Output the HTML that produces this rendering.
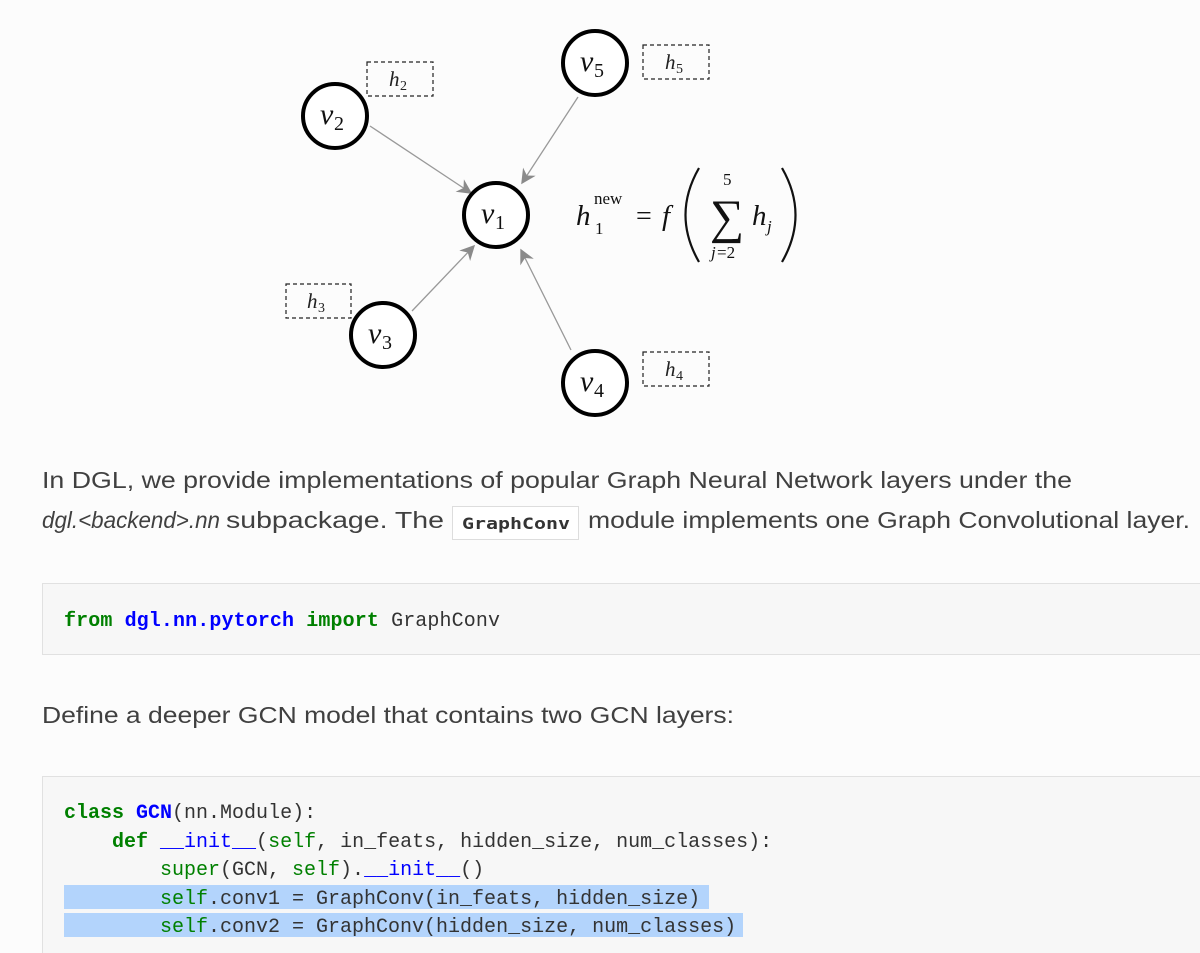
<!DOCTYPE html>
<html><head><meta charset="utf-8"><style>
html,body{margin:0;padding:0;background:#fcfcfc;}
svg{display:block}
</style></head><body>
<svg width="1200" height="953" xmlns="http://www.w3.org/2000/svg">
<defs>
<marker id="ar" viewBox="0 0 10 10" refX="9" refY="5" markerWidth="15" markerHeight="15" markerUnits="userSpaceOnUse" orient="auto">
<path d="M0,0 L10,5 L0,10 L3,5 z" fill="#8a8a8a"/></marker>
</defs>
<rect width="1200" height="953" fill="#fcfcfc"/>
<g stroke="#999" stroke-width="1.3" fill="none" marker-end="url(#ar)">
<line x1="370" y1="126" x2="471" y2="193"/>
<line x1="578" y1="97" x2="522" y2="183"/>
<line x1="412" y1="311" x2="474" y2="246"/>
<line x1="571" y1="350" x2="521" y2="250"/>
</g>
<g stroke="#000" stroke-width="4" fill="#fff">
<circle cx="335" cy="116" r="32"/>
<circle cx="595" cy="63" r="32"/>
<circle cx="496" cy="215" r="32"/>
<circle cx="383" cy="335" r="32"/>
<circle cx="595" cy="383" r="32"/>
</g>
<g font-family="Liberation Serif, serif" font-style="italic" font-size="30" fill="#111">
<text x="320" y="124">v</text><text x="334" y="130" font-size="20" font-style="normal">2</text>
<text x="580" y="71">v</text><text x="594" y="77" font-size="20" font-style="normal">5</text>
<text x="481" y="223">v</text><text x="495" y="229" font-size="20" font-style="normal">1</text>
<text x="368" y="343">v</text><text x="382" y="349" font-size="20" font-style="normal">3</text>
<text x="580" y="391">v</text><text x="594" y="397" font-size="20" font-style="normal">4</text>
</g>
<g stroke="#222" stroke-width="1.2" stroke-dasharray="4,3" fill="none">
<rect x="367" y="62" width="66" height="34"/>
<rect x="643" y="45" width="66" height="34"/>
<rect x="286" y="284" width="65" height="34"/>
<rect x="643" y="352" width="66" height="34"/>
</g>
<g font-family="Liberation Serif, serif" font-style="italic" font-size="21" fill="#222">
<text x="389" y="86">h</text><text x="400" y="90" font-size="14" font-style="normal">2</text>
<text x="665" y="69">h</text><text x="676" y="73" font-size="14" font-style="normal">5</text>
<text x="307" y="308">h</text><text x="318" y="312" font-size="14" font-style="normal">3</text>
<text x="665" y="376">h</text><text x="676" y="380" font-size="14" font-style="normal">4</text>
</g>
<g font-family="Liberation Serif, serif" fill="#111">
<text x="576" y="225" font-size="29" font-style="italic">h</text>
<text x="594" y="204" font-size="17">new</text>
<text x="595" y="234" font-size="17">1</text>
<text x="636" y="225" font-size="28">=</text>
<text x="662" y="225" font-size="29" font-style="italic">f</text>
<path d="M699,168 Q672,215 699,262" stroke="#111" stroke-width="2.2" fill="none"/>
<path d="M782,168 Q809,215 782,262" stroke="#111" stroke-width="2.2" fill="none"/>
<text x="710" y="233" font-size="48">∑</text>
<text x="723" y="185" font-size="17">5</text>
<text x="711" y="258" font-size="17" font-style="italic">j</text><text x="717" y="258" font-size="17">=2</text>
<text x="752" y="225" font-size="29" font-style="italic">h</text>
<text x="767" y="232" font-size="17" font-style="italic">j</text>
</g>
<g font-family="Liberation Sans, sans-serif" font-size="23" fill="#404040">
<text x="42" y="488" textLength="1030" lengthAdjust="spacingAndGlyphs">In DGL, we provide implementations of popular Graph Neural Network layers under the</text>
<text x="42" y="528" font-style="italic" textLength="178" lengthAdjust="spacingAndGlyphs">dgl.&lt;backend&gt;.nn</text>
<text x="226" y="528" textLength="218" lengthAdjust="spacingAndGlyphs">subpackage. The</text>
<text x="588" y="528" textLength="602" lengthAdjust="spacingAndGlyphs">module implements one Graph Convolutional layer.</text>
<text x="42" y="723" textLength="692" lengthAdjust="spacingAndGlyphs">Define a deeper GCN model that contains two GCN layers:</text>
</g>
<rect x="452.5" y="506.5" width="126" height="33" fill="#fff" stroke="#ddd"/>
<text x="462" y="529" font-family="DejaVu Sans Mono, monospace" font-size="16" font-weight="bold" fill="#333" textLength="108" lengthAdjust="spacingAndGlyphs">GraphConv</text>
<rect x="42.5" y="583.5" width="1170" height="71" fill="#f7f7f7" stroke="#e1e1e1"/>
<rect x="42.5" y="776.5" width="1170" height="190" fill="#f7f7f7" stroke="#e1e1e1"/>
<rect x="64" y="885" width="645" height="24" fill="#b3d4fc"/>
<rect x="64" y="913" width="679" height="24" fill="#b3d4fc"/>
<g font-family="Liberation Mono, monospace" font-size="20" fill="#333">
<text x="64" y="626" textLength="436"><tspan fill="#008000" font-weight="bold">from</tspan> <tspan fill="#0000ff" font-weight="bold">dgl.nn.pytorch</tspan> <tspan fill="#008000" font-weight="bold">import</tspan> GraphConv</text>
<text x="64" y="818"><tspan fill="#008000" font-weight="bold">class</tspan> <tspan fill="#0000ff" font-weight="bold">GCN</tspan>(nn.Module):</text>
<text x="112" y="847"><tspan fill="#008000" font-weight="bold">def</tspan> <tspan fill="#0000ff">__init__</tspan>(<tspan fill="#008000">self</tspan>, in_feats, hidden_size, num_classes):</text>
<text x="160" y="875"><tspan fill="#008000">super</tspan>(GCN, <tspan fill="#008000">self</tspan>).<tspan fill="#0000ff">__init__</tspan>()</text>
<text x="160" y="904"><tspan fill="#008000">self</tspan>.conv1 = GraphConv(in_feats, hidden_size)</text>
<text x="160" y="932"><tspan fill="#008000">self</tspan>.conv2 = GraphConv(hidden_size, num_classes)</text>
</g>
</svg>
</body></html>
